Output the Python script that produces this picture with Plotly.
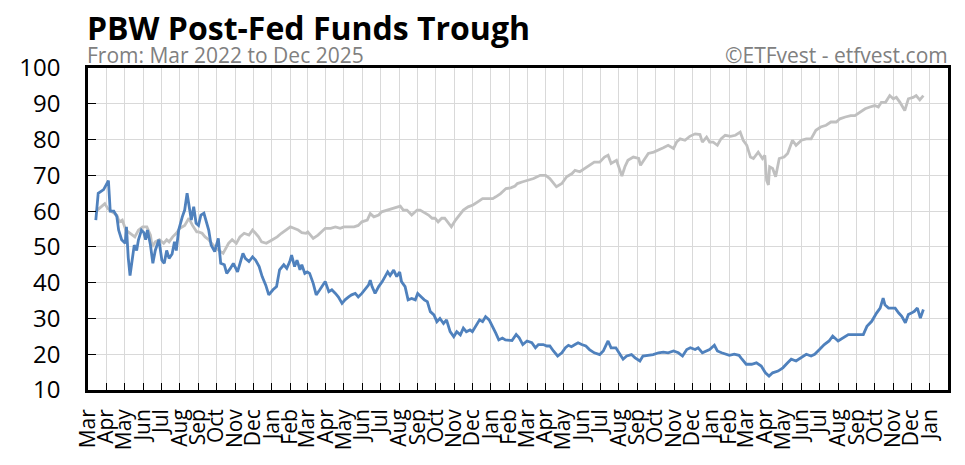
import plotly.graph_objects as go

# PBW (blue)
pbw_dates = [
    '2022-03-14', '2022-03-18', '2022-03-27', '2022-04-04', '2022-04-07', '2022-04-13', '2022-04-18',
    '2022-04-21', '2022-04-26', '2022-05-02', '2022-05-04', '2022-05-07', '2022-05-10', '2022-05-13',
    '2022-05-17', '2022-05-21', '2022-05-24', '2022-05-29', '2022-06-02', '2022-06-05', '2022-06-08',
    '2022-06-13', '2022-06-17', '2022-06-21', '2022-06-27', '2022-07-02', '2022-07-06', '2022-07-10',
    '2022-07-14', '2022-07-19', '2022-07-23', '2022-07-26', '2022-07-30', '2022-08-05', '2022-08-09',
    '2022-08-13', '2022-08-17', '2022-08-20', '2022-08-24', '2022-08-28', '2022-09-01', '2022-09-05',
    '2022-09-10', '2022-09-14', '2022-09-18', '2022-09-22', '2022-09-28', '2022-10-04', '2022-10-08',
    '2022-10-14', '2022-10-18', '2022-10-24', '2022-10-29', '2022-11-05', '2022-11-10', '2022-11-14',
    '2022-11-18', '2022-11-24', '2022-11-30', '2022-12-05', '2022-12-11', '2022-12-16', '2022-12-22',
    '2022-12-27', '2023-01-03', '2023-01-09', '2023-01-14', '2023-01-21', '2023-01-26', '2023-01-31',
    '2023-02-03', '2023-02-08', '2023-02-12', '2023-02-17', '2023-02-20', '2023-02-25', '2023-03-01',
    '2023-03-05', '2023-03-11', '2023-03-16', '2023-03-22', '2023-03-31', '2023-04-06', '2023-04-11',
    '2023-04-17', '2023-04-22', '2023-04-28', '2023-05-03', '2023-05-09', '2023-05-14', '2023-05-20',
    '2023-05-25', '2023-05-31', '2023-06-06', '2023-06-11', '2023-06-14', '2023-06-17', '2023-06-22',
    '2023-06-28', '2023-07-04', '2023-07-09', '2023-07-13', '2023-07-17', '2023-07-23', '2023-07-28',
    '2023-08-02', '2023-08-05', '2023-08-11', '2023-08-16', '2023-08-22', '2023-08-28', '2023-09-01',
    '2023-09-07', '2023-09-12', '2023-09-17', '2023-09-22', '2023-09-28', '2023-10-03', '2023-10-08',
    '2023-10-14', '2023-10-19', '2023-10-25', '2023-10-31', '2023-11-05', '2023-11-11', '2023-11-16',
    '2023-11-21', '2023-11-27', '2023-12-01', '2023-12-06', '2023-12-13', '2023-12-18', '2023-12-23',
    '2023-12-29', '2024-01-04', '2024-01-09', '2024-01-14', '2024-01-20', '2024-01-25', '2024-01-31',
    '2024-02-05', '2024-02-12', '2024-02-17', '2024-02-23', '2024-03-01', '2024-03-09', '2024-03-15',
    '2024-03-20', '2024-03-28', '2024-04-03', '2024-04-08', '2024-04-14', '2024-04-21', '2024-04-28',
    '2024-05-04', '2024-05-09', '2024-05-14', '2024-05-20', '2024-05-25', '2024-05-31', '2024-06-07',
    '2024-06-13', '2024-06-21', '2024-06-30', '2024-07-06', '2024-07-11', '2024-07-14', '2024-07-19',
    '2024-07-27', '2024-08-03', '2024-08-08', '2024-08-14', '2024-08-22', '2024-08-28', '2024-09-05',
    '2024-09-10', '2024-09-19', '2024-09-27', '2024-10-06', '2024-10-14', '2024-10-22', '2024-10-31',
    '2024-11-08', '2024-11-15', '2024-11-22', '2024-11-28', '2024-12-06', '2024-12-11', '2024-12-18',
    '2024-12-25', '2024-12-30', '2025-01-07', '2025-01-12', '2025-01-19', '2025-01-26', '2025-02-01',
    '2025-02-09', '2025-02-17', '2025-02-22', '2025-03-01', '2025-03-10', '2025-03-18', '2025-03-26',
    '2025-04-02', '2025-04-08', '2025-04-14', '2025-04-23', '2025-05-01', '2025-05-09', '2025-05-15',
    '2025-05-23', '2025-06-01', '2025-06-09', '2025-06-17', '2025-06-23', '2025-07-01', '2025-07-09',
    '2025-07-17', '2025-07-23', '2025-08-01', '2025-08-09', '2025-08-18', '2025-08-27', '2025-09-04',
    '2025-09-12', '2025-09-18', '2025-09-26', '2025-10-04', '2025-10-10', '2025-10-15', '2025-10-18',
    '2025-10-24', '2025-10-29', '2025-11-04', '2025-11-10', '2025-11-15', '2025-11-21', '2025-11-26',
    '2025-12-01', '2025-12-06', '2025-12-11', '2025-12-16', '2025-12-21',
]
pbw_values = [
    57.5, 65, 66, 68.5, 60, 60, 58.5,
    54.7, 52, 51, 55.6, 47, 42, 46.3,
    50.5, 49, 52, 54.7, 54, 52, 54.7,
    50.5, 45.4, 49, 52, 46.3, 45.4, 49,
    46.8, 48, 51.4, 49, 54.7, 58.4, 60.3,
    65, 61.2, 57.5, 61.2, 56.6, 56, 58.9,
    59.4, 57, 54.7, 50.5, 48.7, 52.4, 45.4,
    45, 42.6, 44, 45.4, 43, 46.3, 48.2,
    46.8, 45.9, 47.2, 46.3, 44.5, 41.7, 39.3,
    36.6, 38, 38.9, 43.6, 45, 44, 45.9,
    47.7, 44.5, 46.3, 43.6, 45, 42.6, 43,
    42.6, 39.8, 36.6, 38, 40.3, 37.5, 38,
    37, 36, 34.2, 35.2, 36, 36.6, 37,
    36, 37, 38.4, 39.3, 40.7, 38.9, 37,
    38.9, 40.3, 41.7, 43, 42, 43.5, 41.7,
    43, 40.3, 38.9, 35.2, 35.6, 35.2, 37,
    36, 35.2, 34.7, 31.9, 31, 29.1, 30,
    28.6, 29.6, 26.3, 24.9, 26.3, 25.4, 27.3,
    26.3, 26.8, 26.3, 27.7, 29.6, 29.1, 30.5,
    29.6, 27.7, 25.9, 24, 24.5, 24, 23.8,
    23.8, 25.5, 24.6, 22.7, 23.7, 23.2, 21.8,
    22.7, 22.7, 22.3, 22.3, 20.9, 19.5, 20.4,
    21.8, 22.5, 22.1, 22.7, 23.2, 22.7, 22.3,
    21.3, 20.4, 19.9, 20.9, 22.7, 23.7, 21.8,
    21.8, 19.9, 18.6, 19.5, 19.9, 19, 18.1,
    19.5, 19.7, 19.9, 20.4, 20.6, 20.4, 20.9,
    20.4, 19.5, 21.3, 21.8, 21.3, 21.8, 20.4,
    20.9, 21.3, 22.5, 20.9, 20.4, 20, 19.7,
    20, 19.7, 18.6, 17.2, 17.2, 17.6, 16.7,
    14.8, 13.9, 14.8, 15.3, 16.2, 17.6, 18.6,
    18.1, 19, 20, 19.5, 20, 21.3, 22.7,
    23.7, 25.1, 23.7, 24.6, 25.5, 25.5, 25.5,
    25.5, 27.8, 29.2, 31.5, 32.9, 35.7, 33.8,
    32.9, 32.9, 32.9, 31.5, 30.6, 28.8, 31.1,
    31.5, 32, 32.9, 30.1, 32.5,
]

# benchmark (grey)
bench_dates = [
    '2022-03-14', '2022-03-18', '2022-03-29', '2022-04-03', '2022-04-10', '2022-04-18', '2022-04-22',
    '2022-04-27', '2022-05-03', '2022-05-10', '2022-05-18', '2022-05-24', '2022-05-31', '2022-06-07',
    '2022-06-13', '2022-06-16', '2022-06-21', '2022-06-28', '2022-07-05', '2022-07-10', '2022-07-14',
    '2022-07-20', '2022-07-26', '2022-08-01', '2022-08-09', '2022-08-16', '2022-08-22', '2022-08-29',
    '2022-09-01', '2022-09-07', '2022-09-12', '2022-09-18', '2022-09-23', '2022-09-30', '2022-10-12',
    '2022-10-16', '2022-10-21', '2022-10-27', '2022-11-03', '2022-11-09', '2022-11-16', '2022-11-24',
    '2022-11-30', '2022-12-05', '2022-12-10', '2022-12-15', '2022-12-23', '2023-01-02', '2023-01-10',
    '2023-01-17', '2023-01-25', '2023-02-01', '2023-02-07', '2023-02-14', '2023-02-20', '2023-02-27',
    '2023-03-02', '2023-03-11', '2023-03-19', '2023-03-31', '2023-04-09', '2023-04-17', '2023-04-25',
    '2023-05-01', '2023-05-09', '2023-05-18', '2023-05-25', '2023-05-31', '2023-06-09', '2023-06-14',
    '2023-06-20', '2023-06-28', '2023-07-03', '2023-07-12', '2023-07-20', '2023-07-28', '2023-08-03',
    '2023-08-08', '2023-08-14', '2023-08-22', '2023-08-31', '2023-09-05', '2023-09-11', '2023-09-19',
    '2023-09-25', '2023-09-30', '2023-10-05', '2023-10-11', '2023-10-16', '2023-10-22', '2023-10-27',
    '2023-11-03', '2023-11-11', '2023-11-16', '2023-11-24', '2023-12-02', '2023-12-10', '2023-12-18',
    '2023-12-26', '2024-01-04', '2024-01-09', '2024-01-17', '2024-01-26', '2024-02-03', '2024-02-10',
    '2024-02-14', '2024-02-23', '2024-03-04', '2024-03-12', '2024-03-23', '2024-04-01', '2024-04-08',
    '2024-04-14', '2024-04-19', '2024-04-28', '2024-05-06', '2024-05-15', '2024-05-20', '2024-05-28',
    '2024-06-05', '2024-06-13', '2024-06-21', '2024-06-30', '2024-07-08', '2024-07-14', '2024-07-19',
    '2024-07-28', '2024-08-03', '2024-08-06', '2024-08-11', '2024-08-16', '2024-08-25', '2024-09-03',
    '2024-09-06', '2024-09-11', '2024-09-19', '2024-09-28', '2024-10-06', '2024-10-14', '2024-10-22',
    '2024-10-31', '2024-11-05', '2024-11-11', '2024-11-19', '2024-11-27', '2024-12-06', '2024-12-14',
    '2024-12-18', '2024-12-25', '2024-12-30', '2025-01-05', '2025-01-12', '2025-01-18', '2025-01-25',
    '2025-02-03', '2025-02-11', '2025-02-19', '2025-02-24', '2025-03-02', '2025-03-08', '2025-03-13',
    '2025-03-21', '2025-03-28', '2025-04-01', '2025-04-04', '2025-04-07', '2025-04-09', '2025-04-14',
    '2025-04-19', '2025-04-25', '2025-05-03', '2025-05-09', '2025-05-17', '2025-05-23', '2025-06-01',
    '2025-06-09', '2025-06-17', '2025-06-25', '2025-07-03', '2025-07-12', '2025-07-20', '2025-07-29',
    '2025-08-04', '2025-08-13', '2025-08-22', '2025-08-29', '2025-09-07', '2025-09-15', '2025-09-23',
    '2025-10-01', '2025-10-07', '2025-10-12', '2025-10-19', '2025-10-26', '2025-11-01', '2025-11-06',
    '2025-11-12', '2025-11-20', '2025-11-26', '2025-12-04', '2025-12-09', '2025-12-15', '2025-12-21',
]
bench_values = [
    59.8, 60.5, 62.1, 60.7, 59.8, 58.9, 57,
    57.5, 54.7, 53.8, 52.8, 54.7, 55.6, 55.6,
    53.3, 50, 51.4, 52, 51, 52, 51.4,
    52.8, 53.8, 55.2, 56, 58, 56, 54.2,
    54.2, 53.8, 52.8, 52, 51, 49.6, 48.2,
    49.6, 51, 52, 51, 52.8, 53.8, 53.3,
    54.7, 53.8, 52.8, 51.4, 51, 52, 52.8,
    53.8, 54.7, 55.6, 55.2, 54.7, 54, 53.8,
    54.2, 52.4, 53.3, 55.2, 55.2, 55.6, 55.2,
    55.6, 55.6, 55.6, 56, 57, 57.5, 59.3,
    58.4, 58.9, 59.8, 60.3, 60.7, 61.2, 61.4,
    60.3, 60.3, 58.9, 60.3, 60.3, 59.8, 58.9,
    58, 58, 57, 58, 58, 56.6, 55.6,
    57.5, 59.3, 60.3, 61.2, 61.7, 62.6, 63.5,
    63.5, 63.5, 64, 64.9, 66.3, 66.5, 67,
    67.7, 68.2, 68.6, 69.1, 70, 70, 69.1,
    67.7, 66.8, 67.7, 69.6, 70.5, 71.4, 71,
    71.9, 72.8, 73.7, 73.7, 75.1, 75.6, 73.3,
    74.2, 71.4, 69.8, 72.4, 74.2, 75.1, 74.7,
    72.8, 74.2, 76.1, 76.5, 77, 77.7, 78.4,
    77.5, 79.3, 80.2, 79.8, 80.9, 81.6, 81.4,
    79.3, 80.7, 79.3, 79.3, 78.4, 80.2, 81.2,
    80.9, 81.2, 82.1, 79.8, 78.4, 75.1, 74.7,
    76.5, 74.7, 75.6, 68.6, 67.3, 72.4, 71.9,
    69.6, 74.7, 75.1, 76.1, 79.8, 78.4, 79.8,
    80.2, 80.2, 82.6, 83.5, 84, 84.9, 84.9,
    85.8, 86.3, 86.7, 86.7, 87.7, 88.6, 89.1,
    89.5, 89.1, 90.4, 90.4, 92.3, 91.4, 91.8,
    90.4, 88.1, 91.4, 91.8, 92.3, 91.1, 92.3,
]

title = 'PBW Post-Fed Funds Trough'
subtitle = 'From: Mar 2022 to Dec 2025'
credit = '©ETFvest - etfvest.com'
font = 'Open Sans'

fig = go.Figure()
fig.add_trace(go.Scatter(x=bench_dates, y=bench_values, mode='lines', name='Benchmark',
                         line=dict(color='#C0C0C0', width=2.8)))
fig.add_trace(go.Scatter(x=pbw_dates, y=pbw_values, mode='lines', name='PBW',
                         line=dict(color='#4F81BD', width=2.8)))

fig.update_xaxes(
    type='date', range=['2022-03-01', '2026-01-31'],
    tick0='2022-03-01', dtick='M1', tickformat='%b', tickangle=-90,
    ticks='inside', ticklen=7, tickcolor='black', tickwidth=1,
    showgrid=True, gridcolor='#D9D9D9', gridwidth=1,
    showline=True, linecolor='black', linewidth=2.5, mirror=True,
    tickfont=dict(family=font, size=21, color='black'),
    ticklabelstandoff=8,
)
fig.update_yaxes(
    range=[10, 100], dtick=10,
    ticks='inside', ticklen=8, tickcolor='black', tickwidth=1,
    showgrid=True, gridcolor='#D9D9D9', gridwidth=1,
    showline=True, linecolor='black', linewidth=2.5, mirror=True,
    tickfont=dict(family=font, size=24, color='black'),
    ticklabelstandoff=20, zeroline=False,
)

# the page puts the figure 8px in from the top-left corner
fig.update_layout(
    width=965, height=465,
    margin=dict(l=80, r=25, t=60, b=83),
    paper_bgcolor='white', plot_bgcolor='white',
    showlegend=False,
    annotations=[
        dict(text='<b>' + title + '</b>', x=-0.004, y=1.127, xref='paper', yref='paper',
             xanchor='left', yanchor='middle', showarrow=False,
             font=dict(family=font, size=32, color='black')),
        dict(text=subtitle, x=-0.004, y=1.04, xref='paper', yref='paper',
             xanchor='left', yanchor='middle', showarrow=False,
             font=dict(family=font, size=21, color='#808080')),
        dict(text=credit, x=1.002, y=1.04, xref='paper', yref='paper',
             xanchor='right', yanchor='middle', showarrow=False,
             font=dict(family=font, size=21, color='#808080')),
    ],
)

fig.write_html('out.html')
